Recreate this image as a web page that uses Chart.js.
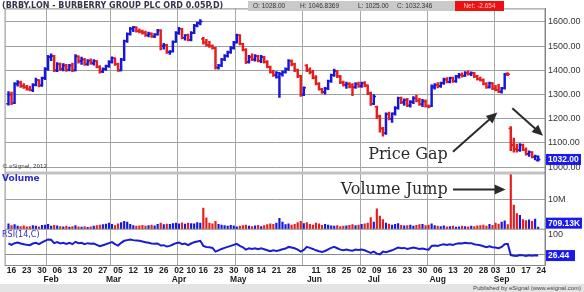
<!DOCTYPE html>
<html><head><meta charset="utf-8">
<script src="https://cdn.jsdelivr.net/npm/chart.js@4.4.1/dist/chart.umd.min.js"></script>
<style>
html,body{margin:0;padding:0;background:#fff;}
#wrap{position:relative;width:584px;height:292px;overflow:hidden;}
#c{position:absolute;left:0;top:0;}
#title{position:absolute;left:2px;top:1px;font:bold 8px "DejaVu Sans",sans-serif;color:#35354d;white-space:nowrap;}
#ohlc{position:absolute;left:248px;top:1px;width:207px;height:10px;background:#cacaca;font:6.5px "Liberation Sans",sans-serif;color:#333;line-height:10px;white-space:nowrap;}
#ohlc span{position:absolute;top:0;}
#net{position:absolute;left:455px;top:1px;width:49px;height:10px;background:#e11;font:6.5px "Liberation Sans",sans-serif;color:#ffc4c4;line-height:10px;text-align:center;}
#footer{position:absolute;left:0;top:284px;width:584px;height:8px;background:#e4e4e4;}
#footer span{position:absolute;right:3px;top:0;font:6px "Liberation Sans",sans-serif;color:#444;line-height:8px;}
</style></head>
<body>
<div id="wrap">
<canvas id="c" width="584" height="292"></canvas>
<div id="title">(BRBY.LON - BURBERRY GROUP PLC ORD 0.05P,D)</div>
<div id="ohlc"><span style="left:5px">O: 1028.00</span><span style="left:52px">H: 1046.8369</span><span style="left:110px">L: 1025.00</span><span style="left:149px">C: 1032.346</span></div>
<div id="net">Net: -2.654</div>
<div id="footer"><span>Published by eSignal (www.esignal.com)</span></div>
</div>
<script>
// Trading-day index: 0 = Mon 16 Jan 2012; first bar is Fri 13 Jan (index -1)
const firstBar = -1;
const opens = [1262,1300,1265,1345,1350,1336,1330,1322,1318,1340,
1360,1338,1368,1405,1455,1460,1400,1425,1405,1420,
1402,1420,1400,1458,1438,1445,1425,1440,1430,1438,
1415,1395,1405,1418,1435,1450,1425,1400,1445,1520,
1550,1572,1578,1562,1560,1556,1545,1552,1540,1548,
1565,1500,1505,1475,1478,1518,1555,1572,1535,1545,
1526,1555,1585,1595,1530,1515,1505,1500,1492,1412,
1420,1445,1460,1475,1492,1515,1545,1510,1485,1435,
1455,1445,1460,1440,1455,1435,1415,1392,1380,1372,
1385,1392,1405,1440,1425,1400,1378,1300,1420,1400,
1392,1370,1345,1322,1310,1325,1355,1380,1398,1375,
1350,1340,1345,1340,1330,1345,1335,1348,1338,1305,
1262,1250,1210,1160,1140,1220,1200,1222,1245,1285,
1268,1278,1255,1270,1285,1275,1260,1272,1252,1252,
1328,1340,1335,1348,1362,1352,1368,1355,1375,1382,
1378,1390,1385,1390,1375,1365,1360,1345,1330,1348,
1325,1320,1312,1326,1388,1160,1092,1075,1070,1092,
1072,1055,1062,1042,1028];
const highs = [1312,1310,1350,1358,1356,1345,1338,1335,1345,1368,
1362,1372,1412,1462,1468,1462,1432,1430,1428,1425,
1425,1430,1465,1460,1455,1450,1445,1448,1445,1440,
1420,1410,1422,1440,1456,1452,1430,1450,1525,1555,
1578,1582,1580,1572,1566,1562,1558,1555,1552,1570,
1568,1512,1508,1482,1522,1560,1578,1574,1548,1550,
1560,1590,1600,1610,1536,1528,1520,1505,1495,1425,
1450,1465,1480,1498,1520,1550,1548,1512,1490,1462,
1468,1465,1462,1462,1458,1440,1418,1400,1395,1392,
1398,1410,1445,1444,1430,1405,1380,1332,1424,1410,
1400,1378,1350,1326,1330,1360,1385,1405,1400,1380,
1356,1352,1350,1345,1350,1352,1352,1354,1340,1310,
1300,1252,1215,1165,1225,1228,1225,1250,1290,1290,
1282,1285,1275,1292,1298,1285,1280,1278,1258,1340,
1345,1350,1352,1368,1370,1372,1372,1380,1388,1390,
1395,1398,1394,1392,1380,1372,1365,1350,1352,1350,
1338,1342,1330,1388,1390,1168,1120,1095,1098,1096,
1080,1068,1065,1050,1047];
const lows = [1256,1258,1262,1335,1330,1325,1318,1315,1312,1336,
1332,1334,1362,1400,1440,1395,1395,1400,1398,1396,
1398,1395,1398,1430,1425,1420,1420,1425,1422,1410,
1388,1390,1400,1412,1430,1420,1396,1398,1440,1515,
1545,1560,1558,1555,1550,1540,1538,1536,1535,1545,
1484,1488,1470,1466,1475,1515,1548,1530,1525,1522,
1522,1552,1580,1588,1508,1500,1495,1488,1405,1405,
1415,1440,1455,1470,1488,1512,1505,1480,1428,1430,
1440,1438,1435,1432,1430,1410,1388,1375,1368,1288,
1376,1388,1400,1418,1395,1370,1292,1296,1395,1385,
1365,1340,1318,1305,1302,1320,1350,1375,1370,1345,
1335,1325,1328,1296,1325,1330,1330,1332,1300,1255,
1258,1200,1145,1128,1135,1195,1185,1215,1240,1262,
1255,1250,1248,1262,1270,1255,1250,1248,1245,1250,
1322,1328,1330,1342,1348,1348,1350,1350,1368,1372,
1375,1380,1378,1370,1360,1355,1340,1325,1326,1320,
1315,1308,1306,1322,1378,1068,1062,1062,1065,1068,
1050,1045,1038,1030,1025];
const closes = [1300,1265,1345,1350,1336,1330,1322,1318,1340,1360,
1338,1368,1405,1455,1460,1400,1425,1405,1420,1402,
1420,1400,1458,1438,1445,1425,1440,1430,1438,1415,
1395,1405,1418,1435,1450,1425,1400,1445,1520,1550,
1572,1578,1562,1560,1556,1545,1552,1540,1548,1565,
1500,1505,1475,1478,1518,1555,1572,1535,1545,1526,
1555,1585,1595,1602,1515,1505,1500,1492,1412,1420,
1445,1460,1475,1492,1515,1545,1510,1485,1435,1455,
1445,1460,1440,1455,1435,1415,1392,1380,1390,1385,
1392,1405,1440,1425,1400,1378,1300,1328,1400,1392,
1370,1345,1322,1310,1325,1355,1380,1398,1375,1350,
1340,1345,1332,1330,1345,1335,1348,1338,1305,1262,
1292,1210,1160,1140,1220,1200,1222,1245,1285,1268,
1278,1255,1270,1285,1275,1260,1272,1252,1250,1335,
1340,1335,1348,1362,1352,1368,1355,1375,1382,1378,
1390,1385,1390,1375,1365,1360,1345,1330,1348,1325,
1320,1312,1326,1382,1384,1092,1075,1070,1092,1072,
1055,1062,1042,1045,1032];
const volumesM = [1.8,1.2,1.5,1.0,0.9,1.1,0.8,0.9,1.2,1.0,
0.8,1.3,1.4,1.6,1.0,1.3,1.1,0.9,0.8,1.0,
0.7,0.9,1.2,0.8,0.7,0.9,0.6,0.8,1.0,1.2,
1.4,1.5,1.7,2.0,1.6,1.2,1.8,2.2,2.6,2.4,
1.6,1.2,1.0,1.1,1.3,1.0,1.2,1.4,1.1,1.6,
2.0,1.5,1.7,1.6,1.9,2.0,1.8,2.1,1.7,2.0,
1.9,1.8,2.2,2.0,7.0,3.8,2.0,1.8,2.6,1.6,
1.4,1.2,1.0,1.3,1.1,0.8,1.0,1.2,1.4,1.0,
0.9,1.1,1.3,0.9,1.2,1.5,1.8,1.6,2.0,3.6,
2.4,1.5,1.8,1.4,1.6,2.2,2.6,1.9,2.2,1.6,
1.4,2.0,1.8,1.3,1.6,1.4,1.1,1.0,1.2,0.9,
1.0,1.1,1.3,1.5,1.2,1.4,1.6,1.8,2.0,3.9,
2.4,6.8,4.4,3.2,2.0,1.7,1.4,1.6,1.9,1.3,
1.1,1.2,1.4,1.0,1.3,1.5,1.6,1.2,1.4,1.8,
1.2,1.0,0.9,1.1,0.8,0.9,1.0,0.7,0.8,1.0,
0.9,0.8,1.0,0.9,1.1,1.2,1.4,1.0,1.6,1.3,
2.0,1.7,2.4,2.8,1.5,18.6,8.0,5.2,4.6,3.2,
2.9,3.1,2.6,3.4,0.70913];
const rsi14 = [62,58,63,65,62,60,58,57,62,64,
60,65,70,74,73,63,66,62,64,61,
64,60,67,63,64,60,63,61,62,58,
54,57,60,63,66,60,56,64,70,72,
74,72,71,70,68,66,64,62,61,62,
56,57,53,55,59,63,65,60,62,57,
62,66,68,70,55,52,51,49,38,42,
46,49,52,55,58,61,55,51,44,48,
46,48,45,48,45,42,39,42,40,42,
45,47,52,50,48,44,38,43,52,49,
46,42,39,37,40,45,49,52,48,44,
42,44,42,41,44,43,44,42,38,34,
38,32,30,38,36,39,42,46,50,48,
49,46,48,50,48,46,47,45,44,55,
56,55,58,60,58,60,58,61,63,62,
64,63,63,60,58,57,54,51,54,51,
50,48,52,60,61,28,26,25,28,27,
25,27,26,27,26.44];

const weekTickIndex = [0,5,10,15,20,25,30,35,40,45,50,55,59,63,68,73,78,82,87,92,100,105,110,115,120,125,130,135,140,145,150,155,159,164,169,174];
const weekTickLabels = ['16','23','30','06','13','20','27','05','12','19','26','02','10','16','23','30','08','14','21','28','11','18','25','02','09','16','23','30','06','13','20','28','03','10','17','24'];
const monthLabelIndex = [13,33.5,55,74.5,99.5,119,140,161];
const monthLabels = ['Feb','Mar','Apr','May','Jun','Jul','Aug','Sep'];
const monthStartIndex = [12,33,55,74,96,115,137,159];
const priceTicks = [1000,1100,1200,1300,1400,1500,1600];
const volumeTicks = [10];
const rsiTicks = [30,70,100];

const BLUE = '#1717dc', RED = '#e41e1e';
const isUp = i => closes[i] >= opens[i];
const colorAt = ctx => isUp(ctx.dataIndex) ? BLUE : RED;
const xs = closes.map((_, i) => firstBar + i);

const X_MIN = -1.95, X_MAX = 175.24;

function arrow(ctx, x1, y1, x2, y2) {
  const a = Math.atan2(y2 - y1, x2 - x1), L = 11, W = 5;
  ctx.beginPath(); ctx.moveTo(x1, y1); ctx.lineTo(x2 - L * 0.7 * Math.cos(a), y2 - L * 0.7 * Math.sin(a)); ctx.stroke();
  ctx.beginPath(); ctx.moveTo(x2, y2);
  ctx.lineTo(x2 - L * Math.cos(a) + W * Math.sin(a), y2 - L * Math.sin(a) - W * Math.cos(a));
  ctx.lineTo(x2 - L * Math.cos(a) - W * Math.sin(a), y2 - L * Math.sin(a) + W * Math.cos(a));
  ctx.closePath(); ctx.fill();
}

const overlay = {
  id: 'overlay',
  afterDraw(chart) {
    const {ctx, chartArea: ca, scales} = chart;
    const x = scales.x, yP = scales.yP, yV = scales.yV, yR = scales.yR;
    ctx.save();
    ctx.fillStyle = '#c2c2c2';
    ctx.fillRect(ca.left, yP.bottom - 1.5, ca.right - ca.left, 3);
    ctx.fillStyle = '#8a8a8a';
    ctx.fillRect(ca.left, yV.bottom - 0.5, ca.right - ca.left, 1);
    ctx.strokeStyle = '#8a8a8a'; ctx.lineWidth = 1;
    ctx.strokeRect(ca.left - 0.5, ca.top + 0.5, ca.right - ca.left + 0.5, ca.bottom - ca.top);
    ctx.fillStyle = '#2a2ad0'; ctx.textBaseline = 'middle'; ctx.textAlign = 'left';
    ctx.font = 'bold 9px "DejaVu Sans"';
    ctx.fillText('Volume', 2, yV.top + 6);
    ctx.font = '8px "DejaVu Sans"';
    ctx.fillText('RSI(14,C)', 2, yR.top + 6);
    ctx.fillStyle = '#333'; ctx.font = '5.5px "DejaVu Sans"';
    ctx.fillText('\u00a9 eSignal, 2012', 2, yP.bottom - 6);
    const box = (yPix, text, w) => {
      ctx.fillStyle = '#1a1af0';
      ctx.fillRect(ca.right + 1, yPix - 5.5, w, 11);
      ctx.fillStyle = '#fff'; ctx.font = 'bold 8.5px "Liberation Sans"';
      ctx.textAlign = 'left'; ctx.textBaseline = 'middle';
      ctx.fillText(text, ca.right + 3, yPix + 0.5);
    };
    const n = closes.length - 1;
    box(yP.getPixelForValue(closes[n]), closes[n].toFixed(2), 35);
    box(Math.min(yV.getPixelForValue(volumesM[n]), yV.bottom - 6), (volumesM[n] * 1000).toFixed(2) + 'K', 36);
    box(yR.getPixelForValue(rsi14[n]), rsi14[n].toFixed(2), 29);
    ctx.fillStyle = '#2b2b2b'; ctx.strokeStyle = '#2b2b2b'; ctx.lineWidth = 2;
    ctx.font = '16px "DejaVu Serif"'; ctx.textAlign = 'right'; ctx.textBaseline = 'middle';
    ctx.fillText('Price Gap', x.getPixelForValue(143.3), yP.getPixelForValue(1052));
    ctx.fillText('Volume Jump', x.getPixelForValue(143.3), yV.getPixelForValue(13.2));
    arrow(ctx, x.getPixelForValue(145), yP.getPixelForValue(1064), x.getPixelForValue(159.6), yP.getPixelForValue(1226));
    arrow(ctx, x.getPixelForValue(164.5), yP.getPixelForValue(1244), x.getPixelForValue(174.6), yP.getPixelForValue(1130));
    arrow(ctx, x.getPixelForValue(145), yV.getPixelForValue(13.2), x.getPixelForValue(162.3), yV.getPixelForValue(13.2));
    ctx.restore();
  }
};

const fixW = s => { s.width = 39; };

new Chart(document.getElementById('c'), {
  type: 'line',
  data: {
    datasets: [
      {type: 'bar', xAxisID: 'x', yAxisID: 'yP', grouped: false, barThickness: 1.8, borderWidth: 0,
       data: xs.map((v, i) => ({x: v, y: [lows[i], highs[i]]})), backgroundColor: colorAt},
      {type: 'scatter', xAxisID: 'x', yAxisID: 'yP', pointStyle: 'line', pointRadius: 1.2, borderWidth: 1.6,
       data: xs.map((v, i) => ({x: v - 0.33, y: opens[i]})), borderColor: colorAt, backgroundColor: colorAt},
      {type: 'scatter', xAxisID: 'x', yAxisID: 'yP', pointStyle: 'line', pointRadius: 1.2, borderWidth: 1.6,
       data: xs.map((v, i) => ({x: v + 0.33, y: closes[i]})), borderColor: colorAt, backgroundColor: colorAt},
      {type: 'bar', xAxisID: 'x', yAxisID: 'yV', grouped: false, barThickness: 1.5, borderWidth: 0,
       data: xs.map((v, i) => ({x: v, y: volumesM[i]})), backgroundColor: colorAt},
      {type: 'line', xAxisID: 'x', yAxisID: 'yR', borderColor: '#1c1cd2', borderWidth: 2, pointRadius: 0, tension: 0,
       data: xs.map((v, i) => ({x: v, y: rsi14[i]}))}
    ]
  },
  options: {
    responsive: false, animation: false, devicePixelRatio: 1,
    layout: {padding: {left: 1, right: 0, top: 0, bottom: 7}},
    plugins: {legend: {display: false}, tooltip: {enabled: false}},
    scales: {
      x: {type: 'linear', position: 'bottom', min: X_MIN, max: X_MAX, offset: false,
          grid: {display: false, drawTicks: false}, border: {display: false},
          afterBuildTicks: s => { s.ticks = weekTickIndex.map(v => ({value: v})); },
          afterFit: s => { s.height = 10; },
          ticks: {autoSkip: false, maxRotation: 0, padding: 1, color: '#222',
                  font: {family: 'Liberation Sans', size: 8.5, weight: 'bold'},
                  callback: (v, i) => weekTickLabels[i]}},
      xm: {type: 'linear', position: 'bottom', min: X_MIN, max: X_MAX, offset: false,
          grid: {display: false, drawTicks: false}, border: {display: false},
          afterBuildTicks: s => { s.ticks = monthLabelIndex.map(v => ({value: v})); },
          afterFit: s => { s.height = 10; },
          ticks: {autoSkip: false, maxRotation: 0, padding: 0, color: '#222',
                  font: {family: 'Liberation Sans', size: 8.5, weight: 'bold'},
                  callback: (v, i) => monthLabels[i]}},
      xg: {type: 'linear', position: 'bottom', min: X_MIN, max: X_MAX, offset: false,
          grid: {display: true, drawTicks: false, color: '#a8a8a8', lineWidth: 1, borderDash: [1, 2]},
          border: {display: false},
          afterBuildTicks: s => { s.ticks = monthStartIndex.map(v => ({value: v - 0.5})); },
          afterFit: s => { s.height = 0; },
          ticks: {display: false}},
      yP: {type: 'linear', position: 'right', stack: 'panels', stackWeight: 170, min: 976, max: 1656,
          grid: {drawTicks: false, color: '#a0a0a0', borderDash: [1, 2]},
          border: {display: true, color: '#808080'},
          afterBuildTicks: s => { s.ticks = priceTicks.map(v => ({value: v})); },
          afterFit: fixW,
          ticks: {padding: 3, color: '#333', font: {family: 'Liberation Sans', size: 9},
                  callback: v => Number(v).toFixed(2)}},
      yV: {type: 'linear', position: 'right', stack: 'panels', stackWeight: 58, min: 0, max: 18.7,
          grid: {drawTicks: false, color: '#a0a0a0', borderDash: [1, 2]},
          border: {display: true, color: '#808080'},
          afterBuildTicks: s => { s.ticks = volumeTicks.map(v => ({value: v})); },
          afterFit: fixW,
          ticks: {padding: 3, color: '#333', font: {family: 'Liberation Sans', size: 9},
                  callback: v => v + 'M'}},
      yR: {type: 'linear', position: 'right', stack: 'panels', stackWeight: 37, min: -1.4, max: 104.3,
          grid: {drawTicks: false, color: c => (c.tick && c.tick.value === 100) ? 'rgba(0,0,0,0)' : '#8c8c8c'},
          border: {display: true, color: '#808080'},
          afterBuildTicks: s => { s.ticks = rsiTicks.map(v => ({value: v})); },
          afterFit: fixW,
          ticks: {padding: 3, labelOffset: 3.5, color: '#333', font: {family: 'Liberation Sans', size: 9},
                  callback: v => (v === 100 ? '100' : '')}}
    }
  },
  plugins: [overlay]
});
</script>
</body></html>
